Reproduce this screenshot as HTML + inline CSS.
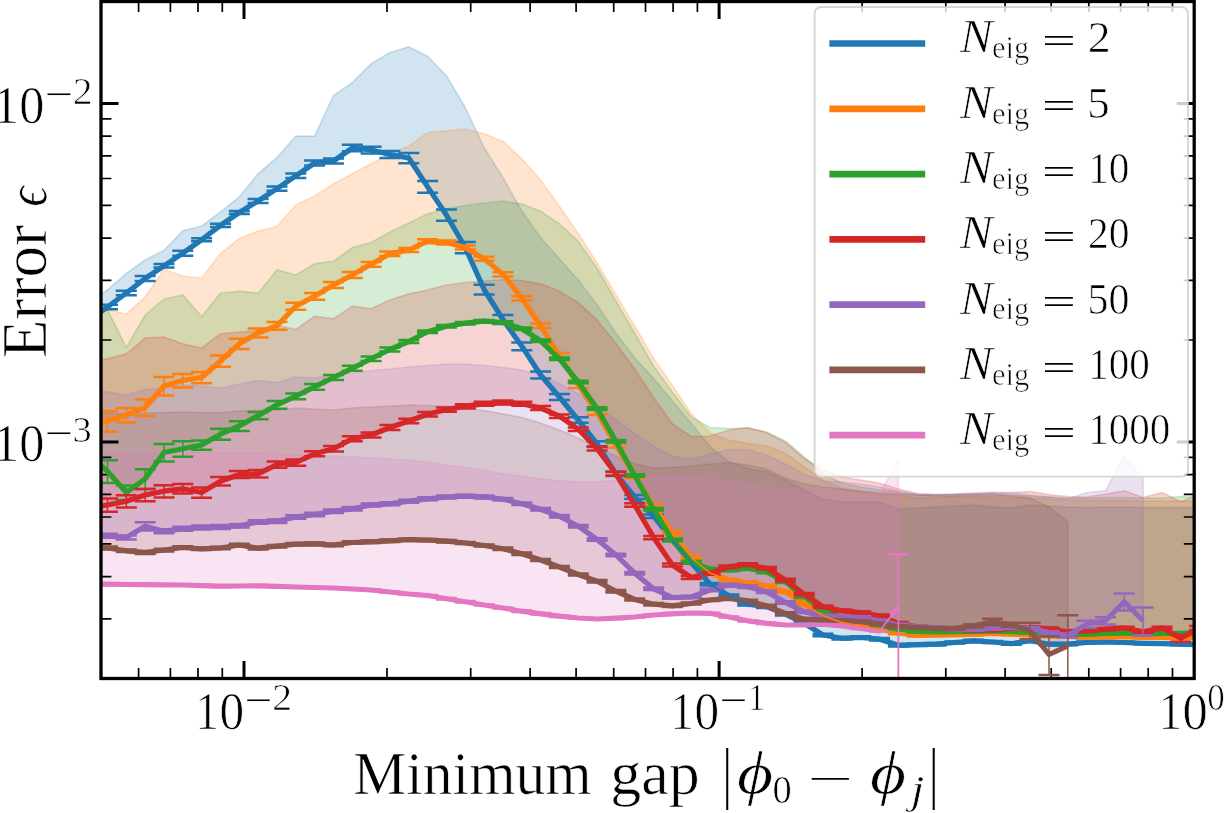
<!DOCTYPE html>
<html lang="en"><head><meta charset="utf-8"><title>Error vs minimum gap</title>
<style>html,body{margin:0;padding:0;background:#fff}body{width:1224px;height:813px;overflow:hidden}svg{display:block}.t text{vector-effect:non-scaling-stroke}</style>
</head><body>
<svg width="1224" height="813" viewBox="0 0 1224 813">
<rect width="1224" height="813" fill="#fff"/>
<defs><clipPath id="ax"><rect x="101.0" y="1.5" width="1093.2" height="677.0"/></clipPath></defs>
<g clip-path="url(#ax)">
<path d="M88.7 302 L107.5 290 L126.3 273.5 L145.2 259.8 L164 250.4 L182.8 230.8 L201.6 226 L220.5 212 L239.3 197 L258.1 173.8 L277 157.5 L295.8 136 L314.6 136 L333.5 95.5 L352.3 82.5 L371.1 63.8 L389.9 52.5 L408.8 46.8 L427.6 56.2 L446.4 75.8 L465.3 107.5 L484.1 147.5 L502.9 177.5 L521.8 211 L540.6 237.5 L559.4 258.8 L578.2 280 L597.1 305 L615.9 333.2 L634.7 357.8 L653.6 378.6 L672.4 401 L691.2 423.3 L710.1 446.8 L728.9 462 L747.7 468.3 L766.5 471.7 L785.4 480 L804.2 490 L823 499.2 L841.9 502.2 L860.7 502.2 L879.5 502.2 L898.4 509 L917.2 508 L936 507 L954.8 506 L973.7 505 L992.5 507 L1011.3 508 L1030.2 505 L1049 506 L1067.8 507 L1086.7 507.5 L1105.5 507 L1124.3 507 L1143.1 507.5 L1162 507.5 L1180.8 507.5 L1199.6 507.5 L1199.6 644.7 L1180.8 644.2 L1162 643.7 L1143.1 643.3 L1124.3 642.5 L1105.5 642 L1086.7 642.5 L1067.8 644.2 L1049 644.2 L1030.2 640.8 L1011.3 643.7 L992.5 642 L973.7 640.8 L954.8 642.5 L936 644.2 L917.2 644.7 L898.4 645.3 L879.5 639.2 L860.7 637.5 L841.9 638.3 L823 635 L804.2 623.3 L785.4 614.2 L766.5 606.7 L747.7 604.2 L728.9 595.8 L710.1 584.2 L691.2 562.5 L672.4 540 L653.6 516.2 L634.7 497 L615.9 473.8 L597.1 443.8 L578.2 420 L559.4 397 L540.6 375 L521.8 346.2 L502.9 319.5 L484.1 289.5 L465.3 247.5 L446.4 215 L427.6 186.8 L408.8 158 L389.9 154.5 L371.1 150 L352.3 148 L333.5 161 L314.6 163 L295.8 175.8 L277 188.6 L258.1 201 L239.3 212.5 L220.5 225.4 L201.6 239.8 L182.8 253.2 L164 265.8 L145.2 278.5 L126.3 293 L107.5 307 L88.7 320Z" fill="#1f77b4" fill-opacity="0.2" stroke="#1f77b4" stroke-opacity="0.2" stroke-width="1.75" stroke-linejoin="round"/>
<path d="M88.7 305 L107.5 309.5 L126.3 314 L145.2 297 L164 269.3 L182.8 276 L201.6 278 L220.5 253.5 L239.3 238.5 L258.1 231 L277 226.4 L295.8 205 L314.6 196 L333.5 183.8 L352.3 173.8 L371.1 163.8 L389.9 153.8 L408.8 146.2 L427.6 132.5 L446.4 130.8 L465.3 129.2 L484.1 133.8 L502.9 141.2 L521.8 158.8 L540.6 180 L559.4 206.2 L578.2 233.5 L597.1 263 L615.9 294.4 L634.7 326.3 L653.6 358.3 L672.4 385.6 L691.2 413.5 L710.1 433.3 L728.9 440 L747.7 443.3 L766.5 445.8 L785.4 453.3 L804.2 466.7 L823 480 L841.9 488.3 L860.7 491.7 L879.5 494.2 L898.4 495 L917.2 498 L936 497 L954.8 496.5 L973.7 496.5 L992.5 497 L1011.3 497.5 L1030.2 498 L1049 499 L1067.8 500 L1086.7 500.5 L1105.5 500.5 L1124.3 500.5 L1143.1 501 L1162 501 L1180.8 501 L1199.6 501 L1199.6 637.5 L1180.8 638 L1162 637.5 L1143.1 637.5 L1124.3 636.7 L1105.5 637 L1086.7 637.5 L1067.8 636.5 L1049 635.8 L1030.2 635 L1011.3 634.2 L992.5 633.3 L973.7 634.2 L954.8 634.7 L936 635 L917.2 635.3 L898.4 633 L879.5 629.2 L860.7 625.8 L841.9 622.5 L823 615.8 L804.2 604.2 L785.4 591.7 L766.5 585.8 L747.7 582.5 L728.9 580 L710.1 573 L691.2 557.5 L672.4 532.5 L653.6 506.2 L634.7 476.2 L615.9 445.5 L597.1 412.5 L578.2 385 L559.4 356.2 L540.6 325.8 L521.8 298.2 L502.9 274.2 L484.1 258.8 L465.3 247.5 L446.4 242.5 L427.6 241.2 L408.8 250 L389.9 253.8 L371.1 264.2 L352.3 275 L333.5 285 L314.6 296.2 L295.8 306.2 L277 325.8 L258.1 333 L239.3 343.8 L220.5 361 L201.6 377.5 L182.8 380.5 L164 386 L145.2 407.5 L126.3 415 L107.5 421 L88.7 426Z" fill="#ff7f0e" fill-opacity="0.2" stroke="#ff7f0e" stroke-opacity="0.2" stroke-width="1.75" stroke-linejoin="round"/>
<path d="M88.7 318 L107.5 309.5 L126.3 347.5 L145.2 315 L164 299.2 L182.8 294.8 L201.6 316.5 L220.5 293 L239.3 291.2 L258.1 293 L277 269.8 L295.8 275 L314.6 263.8 L333.5 261.2 L352.3 247.5 L371.1 242.5 L389.9 232 L408.8 223 L427.6 213.8 L446.4 208.8 L465.3 205.5 L484.1 203 L502.9 201.2 L521.8 203.8 L540.6 211.2 L559.4 223.8 L578.2 241.2 L597.1 268 L615.9 300.8 L634.7 333.3 L653.6 366 L672.4 392 L691.2 417 L710.1 427.5 L728.9 428.5 L747.7 428 L766.5 432 L785.4 441 L804.2 457 L823 474 L841.9 483 L860.7 487 L879.5 490 L898.4 492 L917.2 495 L936 495 L954.8 494.5 L973.7 494 L992.5 494.5 L1011.3 495 L1030.2 496 L1049 497 L1067.8 498 L1086.7 498 L1105.5 497.5 L1124.3 497.5 L1143.1 498 L1162 498 L1180.8 496.5 L1199.6 497 L1199.6 632.5 L1180.8 633.3 L1162 633.3 L1143.1 634.2 L1124.3 632.8 L1105.5 633.3 L1086.7 634.2 L1067.8 634.5 L1049 633.3 L1030.2 632.5 L1011.3 631.7 L992.5 631 L973.7 631.3 L954.8 631.7 L936 631.7 L917.2 631.3 L898.4 629 L879.5 625 L860.7 621 L841.9 618 L823 610 L804.2 596.7 L785.4 581.7 L766.5 572 L747.7 568.3 L728.9 570 L710.1 569.2 L691.2 562 L672.4 540 L653.6 509.2 L634.7 475.5 L615.9 441.2 L597.1 408.5 L578.2 382 L559.4 358.8 L540.6 340.8 L521.8 328.8 L502.9 322.5 L484.1 321.2 L465.3 323.2 L446.4 326.2 L427.6 331.8 L408.8 341.5 L389.9 349.5 L371.1 358.8 L352.3 368.3 L333.5 377.5 L314.6 386.9 L295.8 396.2 L277 404.8 L258.1 415.6 L239.3 426 L220.5 434.2 L201.6 445 L182.8 448.8 L164 452.5 L145.2 478.8 L126.3 492.5 L107.5 471.2 L88.7 455Z" fill="#2ca02c" fill-opacity="0.2" stroke="#2ca02c" stroke-opacity="0.2" stroke-width="1.75" stroke-linejoin="round"/>
<path d="M88.7 362 L107.5 358.8 L126.3 353.8 L145.2 338 L164 337 L182.8 343.8 L201.6 348 L220.5 333.8 L239.3 332 L258.1 330.5 L277 325 L295.8 329.5 L314.6 316.2 L333.5 318.8 L352.3 306.2 L371.1 308.8 L389.9 300 L408.8 293.8 L427.6 290 L446.4 285 L465.3 282.5 L484.1 281.2 L502.9 279.5 L521.8 280.5 L540.6 283.8 L559.4 291.2 L578.2 302.5 L597.1 320 L615.9 343.4 L634.7 369 L653.6 397.5 L672.4 423.8 L691.2 436.5 L710.1 436 L728.9 430 L747.7 427.5 L766.5 432.5 L785.4 442.5 L804.2 458.5 L823 469.5 L841.9 477 L860.7 480 L879.5 483 L898.4 489 L917.2 493.5 L936 494.5 L954.8 494 L973.7 493 L992.5 492.5 L1011.3 492.5 L1030.2 491.5 L1049 494.5 L1067.8 496.7 L1086.7 497 L1105.5 494 L1124.3 490.8 L1143.1 497.5 L1162 492.5 L1180.8 501.7 L1199.6 494 L1199.6 628 L1180.8 638.3 L1162 628 L1143.1 631.7 L1124.3 628 L1105.5 629.2 L1086.7 630.8 L1067.8 631.7 L1049 628.7 L1030.2 627.5 L1011.3 628.3 L992.5 630 L973.7 630 L954.8 629.2 L936 628.3 L917.2 626.7 L898.4 623.3 L879.5 615.8 L860.7 612.5 L841.9 610.8 L823 606.7 L804.2 594.2 L785.4 580 L766.5 568.3 L747.7 564.5 L728.9 566.7 L710.1 573.3 L691.2 577.5 L672.4 565 L653.6 537.5 L634.7 505 L615.9 473.8 L597.1 448.8 L578.2 429.2 L559.4 416.2 L540.6 408 L521.8 403.8 L502.9 402.5 L484.1 403.8 L465.3 406.2 L446.4 409.5 L427.6 414.2 L408.8 421 L389.9 427.5 L371.1 435 L352.3 438.8 L333.5 448.8 L314.6 453.8 L295.8 462.5 L277 464.5 L258.1 473.8 L239.3 474.5 L220.5 481.2 L201.6 492.5 L182.8 488.8 L164 491.2 L145.2 495 L126.3 501.2 L107.5 505 L88.7 508Z" fill="#d62728" fill-opacity="0.2" stroke="#d62728" stroke-opacity="0.2" stroke-width="1.75" stroke-linejoin="round"/>
<path d="M88.7 390 L107.5 391.8 L126.3 395 L145.2 389.5 L164 388 L182.8 384.5 L201.6 386.2 L220.5 388 L239.3 384.2 L258.1 380.5 L277 382.5 L295.8 377 L314.6 378 L333.5 375 L352.3 373.2 L371.1 370.5 L389.9 369 L408.8 367 L427.6 365.5 L446.4 364.2 L465.3 364.2 L484.1 365.5 L502.9 367.5 L521.8 370 L540.6 375 L559.4 383.8 L578.2 393.8 L597.1 406.2 L615.9 420 L634.7 433.8 L653.6 446.2 L672.4 456.2 L691.2 459.3 L710.1 454 L728.9 449.7 L747.7 449.7 L766.5 455 L785.4 464 L804.2 474 L823 481 L841.9 482 L860.7 484 L879.5 487 L898.4 491 L917.2 494 L936 494.5 L954.8 494 L973.7 493.5 L992.5 492.5 L1011.3 493 L1030.2 495 L1049 497 L1067.8 499 L1086.7 492.5 L1105.5 490.8 L1124.3 455.8 L1143.1 478.3 L1143.1 620.8 L1124.3 601.7 L1105.5 620.8 L1086.7 624.2 L1067.8 635.5 L1049 632.5 L1030.2 628.3 L1011.3 627.5 L992.5 628.5 L973.7 629.5 L954.8 629 L936 627.5 L917.2 626.7 L898.4 625 L879.5 620.8 L860.7 617.5 L841.9 617 L823 616.3 L804.2 611.7 L785.4 602.5 L766.5 591.7 L747.7 586.7 L728.9 585 L710.1 590 L691.2 597 L672.4 597.5 L653.6 588.8 L634.7 573.2 L615.9 555 L597.1 539.5 L578.2 526.2 L559.4 516.2 L540.6 509.2 L521.8 503.8 L502.9 499.2 L484.1 497 L465.3 496.2 L446.4 497 L427.6 498.8 L408.8 501.2 L389.9 503.8 L371.1 505 L352.3 508.8 L333.5 511.2 L314.6 514.5 L295.8 517 L277 521.2 L258.1 522 L239.3 525.8 L220.5 527 L201.6 527.5 L182.8 528.8 L164 531.2 L145.2 526.2 L126.3 537.5 L107.5 535.8 L88.7 535Z" fill="#9467bd" fill-opacity="0.2" stroke="#9467bd" stroke-opacity="0.2" stroke-width="1.75" stroke-linejoin="round"/>
<path d="M88.7 413 L107.5 413 L126.3 413.8 L145.2 413 L164 412.5 L182.8 412 L201.6 412.5 L220.5 412.5 L239.3 411 L258.1 410.5 L277 410 L295.8 408.2 L314.6 409.2 L333.5 410 L352.3 408 L371.1 407 L389.9 406.2 L408.8 405 L427.6 405.5 L446.4 406.2 L465.3 408 L484.1 410.5 L502.9 413.8 L521.8 417.5 L540.6 423 L559.4 430 L578.2 438 L597.1 447.5 L615.9 456.2 L634.7 463.8 L653.6 468 L672.4 467.5 L691.2 466 L710.1 464 L728.9 462.5 L747.7 465 L766.5 469 L785.4 478 L804.2 484 L823 487 L841.9 489 L860.7 491 L879.5 493 L898.4 494 L917.2 495 L936 495.5 L954.8 495.5 L973.7 495 L992.5 494 L1011.3 496 L1030.2 498 L1049 506.7 L1067.8 522 L1067.8 645.8 L1049 654.5 L1030.2 630.8 L1011.3 624.8 L992.5 621.8 L973.7 625.7 L954.8 628.3 L936 628.3 L917.2 627.5 L898.4 626.7 L879.5 624.2 L860.7 621.7 L841.9 620.5 L823 620 L804.2 619.2 L785.4 613.3 L766.5 605.8 L747.7 600.8 L728.9 598.3 L710.1 600 L691.2 603.5 L672.4 605.8 L653.6 604.2 L634.7 599.5 L615.9 591.2 L597.1 581.2 L578.2 574.5 L559.4 567 L540.6 560 L521.8 553.8 L502.9 548.8 L484.1 545.5 L465.3 543 L446.4 541.2 L427.6 540 L408.8 539.6 L389.9 540.8 L371.1 541.8 L352.3 542.5 L333.5 545 L314.6 543.8 L295.8 544.2 L277 546.2 L258.1 548.2 L239.3 545 L220.5 548 L201.6 548.8 L182.8 547.5 L164 550 L145.2 552.5 L126.3 550.8 L107.5 548 L88.7 547Z" fill="#8c564b" fill-opacity="0.2" stroke="#8c564b" stroke-opacity="0.2" stroke-width="1.75" stroke-linejoin="round"/>
<path d="M88.7 452 L107.5 452 L126.3 452 L145.2 452 L164 452 L182.8 452 L201.6 452.2 L220.5 452.5 L239.3 452.8 L258.1 453 L277 454 L295.8 455 L314.6 455.6 L333.5 456.2 L352.3 457 L371.1 458 L389.9 459 L408.8 460 L427.6 462.5 L446.4 465 L465.3 467.5 L484.1 470.5 L502.9 473.8 L521.8 476.2 L540.6 478.8 L559.4 480.8 L578.2 482 L597.1 482 L615.9 480 L634.7 477.5 L653.6 476.2 L672.4 476 L691.2 476.7 L710.1 477.5 L728.9 480.8 L747.7 484.2 L766.5 486.7 L785.4 488.3 L804.2 488.3 L823 488.3 L841.9 490 L860.7 492.5 L879.5 495 L898.4 458.8 L898.4 606.7 L879.5 631 L860.7 628.3 L841.9 625.8 L823 624.2 L804.2 625 L785.4 625 L766.5 623.3 L747.7 620.8 L728.9 617 L710.1 613.3 L691.2 613 L672.4 613.8 L653.6 615 L634.7 617 L615.9 618.2 L597.1 619 L578.2 618 L559.4 616.2 L540.6 613.8 L521.8 611.2 L502.9 608 L484.1 605 L465.3 601.8 L446.4 598.8 L427.6 595.5 L408.8 594 L389.9 592 L371.1 590 L352.3 589 L333.5 588 L314.6 587.5 L295.8 587 L277 586.4 L258.1 585.8 L239.3 586 L220.5 586.2 L201.6 585.6 L182.8 585 L164 584.9 L145.2 584.7 L126.3 584.5 L107.5 584.2 L88.7 584Z" fill="#e377c2" fill-opacity="0.2" stroke="#e377c2" stroke-opacity="0.2" stroke-width="1.75" stroke-linejoin="round"/>
</g>
<g><path d="M244 678.5v-17.5M244 1.5v17.5" stroke="#000" stroke-width="3.0"/><path d="M719.1 678.5v-17.5M719.1 1.5v17.5" stroke="#000" stroke-width="3.0"/><path d="M138.6 678.5v-10.4M138.6 1.5v10.4" stroke="#000" stroke-width="1.7"/><path d="M170.4 678.5v-10.4M170.4 1.5v10.4" stroke="#000" stroke-width="1.7"/><path d="M198 678.5v-10.4M198 1.5v10.4" stroke="#000" stroke-width="1.7"/><path d="M222.3 678.5v-10.4M222.3 1.5v10.4" stroke="#000" stroke-width="1.7"/><path d="M387 678.5v-10.4M387 1.5v10.4" stroke="#000" stroke-width="1.7"/><path d="M470.7 678.5v-10.4M470.7 1.5v10.4" stroke="#000" stroke-width="1.7"/><path d="M530.1 678.5v-10.4M530.1 1.5v10.4" stroke="#000" stroke-width="1.7"/><path d="M576.1 678.5v-10.4M576.1 1.5v10.4" stroke="#000" stroke-width="1.7"/><path d="M613.7 678.5v-10.4M613.7 1.5v10.4" stroke="#000" stroke-width="1.7"/><path d="M645.5 678.5v-10.4M645.5 1.5v10.4" stroke="#000" stroke-width="1.7"/><path d="M673.1 678.5v-10.4M673.1 1.5v10.4" stroke="#000" stroke-width="1.7"/><path d="M697.4 678.5v-10.4M697.4 1.5v10.4" stroke="#000" stroke-width="1.7"/><path d="M862.1 678.5v-10.4M862.1 1.5v10.4" stroke="#000" stroke-width="1.7"/><path d="M945.8 678.5v-10.4M945.8 1.5v10.4" stroke="#000" stroke-width="1.7"/><path d="M1005.1 678.5v-10.4M1005.1 1.5v10.4" stroke="#000" stroke-width="1.7"/><path d="M1051.2 678.5v-10.4M1051.2 1.5v10.4" stroke="#000" stroke-width="1.7"/><path d="M1088.8 678.5v-10.4M1088.8 1.5v10.4" stroke="#000" stroke-width="1.7"/><path d="M1120.6 678.5v-10.4M1120.6 1.5v10.4" stroke="#000" stroke-width="1.7"/><path d="M1148.2 678.5v-10.4M1148.2 1.5v10.4" stroke="#000" stroke-width="1.7"/><path d="M1172.5 678.5v-10.4M1172.5 1.5v10.4" stroke="#000" stroke-width="1.7"/><path d="M101.0 441.9h17.5M1194.2 441.9h-17.5" stroke="#000" stroke-width="3.0"/><path d="M101.0 103.4h17.5M1194.2 103.4h-17.5" stroke="#000" stroke-width="3.0"/><path d="M101.0 618.9h10.4M1194.2 618.9h-10.4" stroke="#000" stroke-width="1.7"/><path d="M101.0 576.6h10.4M1194.2 576.6h-10.4" stroke="#000" stroke-width="1.7"/><path d="M101.0 543.8h10.4M1194.2 543.8h-10.4" stroke="#000" stroke-width="1.7"/><path d="M101.0 517h10.4M1194.2 517h-10.4" stroke="#000" stroke-width="1.7"/><path d="M101.0 494.3h10.4M1194.2 494.3h-10.4" stroke="#000" stroke-width="1.7"/><path d="M101.0 474.7h10.4M1194.2 474.7h-10.4" stroke="#000" stroke-width="1.7"/><path d="M101.0 457.4h10.4M1194.2 457.4h-10.4" stroke="#000" stroke-width="1.7"/><path d="M101.0 340h10.4M1194.2 340h-10.4" stroke="#000" stroke-width="1.7"/><path d="M101.0 280.4h10.4M1194.2 280.4h-10.4" stroke="#000" stroke-width="1.7"/><path d="M101.0 238.1h10.4M1194.2 238.1h-10.4" stroke="#000" stroke-width="1.7"/><path d="M101.0 205.3h10.4M1194.2 205.3h-10.4" stroke="#000" stroke-width="1.7"/><path d="M101.0 178.5h10.4M1194.2 178.5h-10.4" stroke="#000" stroke-width="1.7"/><path d="M101.0 155.8h10.4M1194.2 155.8h-10.4" stroke="#000" stroke-width="1.7"/><path d="M101.0 136.2h10.4M1194.2 136.2h-10.4" stroke="#000" stroke-width="1.7"/><path d="M101.0 118.9h10.4M1194.2 118.9h-10.4" stroke="#000" stroke-width="1.7"/></g>
<g clip-path="url(#ax)" fill="none">
<path d="M88.7 320 L107.5 307 L126.3 293 L145.2 278.5 L164 265.8 L182.8 253.2 L201.6 239.8 L220.5 225.4 L239.3 212.5 L258.1 201 L277 188.6 L295.8 175.8 L314.6 163 L333.5 161 L352.3 148 L371.1 150 L389.9 154.5 L408.8 158 L427.6 186.8 L446.4 215 L465.3 247.5 L484.1 289.5 L502.9 319.5 L521.8 346.2 L540.6 375 L559.4 397 L578.2 420 L597.1 443.8 L615.9 473.8 L634.7 497 L653.6 516.2 L672.4 540 L691.2 562.5 L710.1 584.2 L728.9 595.8 L747.7 604.2 L766.5 606.7 L785.4 614.2 L804.2 623.3 L823 635 L841.9 638.3 L860.7 637.5 L879.5 639.2 L898.4 645.3 L917.2 644.7 L936 644.2 L954.8 642.5 L973.7 640.8 L992.5 642 L1011.3 643.7 L1030.2 640.8 L1049 644.2 L1067.8 644.2 L1086.7 642.5 L1105.5 642 L1124.3 642.5 L1143.1 643.3 L1162 643.7 L1180.8 644.2 L1199.6 644.7" stroke="#1f77b4" stroke-width="5.2" stroke-linejoin="round" stroke-linecap="butt"/>
<path d="M78.2 317.7h21M78.2 322.3h21M97 304.7h21M97 309.3h21M115.8 290.7h21M115.8 295.3h21M134.7 276h21M134.7 281h21M153.5 264.1h21M153.5 267.5h21M172.3 250.7h21M172.3 255.7h21M191.1 238.3h21M191.1 241.3h21M210 223.7h21M210 227.1h21M228.8 211h21M228.8 214h21M247.6 198.9h21M247.6 203.1h21M266.5 186.4h21M266.5 190.8h21M285.3 173.6h21M285.3 178h21M304.1 160.5h21M304.1 165.5h21M323 158.5h21M323 163.5h21M341.8 144.8h21M341.8 151.3h21M360.6 146.7h21M360.6 153.4h21M379.4 151h21M379.4 158.1h21M398.3 153h21M398.3 163.2h21M417.1 181.1h21M417.1 192.7h21M435.9 209.4h21M435.9 220.8h21M454.8 242h21M454.8 253.2h21M473.6 284.8h21M473.6 294.4h21M492.4 315h21M492.4 324.1h21M511.3 342.4h21M511.3 350.3h21M530.1 371.6h21M530.1 378.5h21M548.9 394.1h21M548.9 400h21M567.8 417.3h21M567.8 422.8h21M586.6 441.2h21M586.6 446.3h21M605.4 471.6h21M605.4 476h21M624.2 495h21M624.2 499h21M643.1 514.6h21M643.1 517.9h21M661.9 538.7h21M661.9 541.3h21M680.7 561.2h21M680.7 563.8h21M699.6 582.9h21M699.6 585.5h21M718.4 594.5h21M718.4 597.1h21M737.2 602.9h21M737.2 605.5h21M756 605.5h21M756 608h21M774.9 613h21M774.9 615.4h21M793.7 622.1h21M793.7 624.5h21M812.5 633.8h21M812.5 636.2h21M831.4 637.1h21M831.4 639.5h21M850.2 636.3h21M850.2 638.7h21M869 638h21M869 640.4h21M887.9 644.1h21M887.9 646.5h21M906.7 643.5h21M906.7 645.9h21M925.5 643.1h21M925.5 645.4h21M944.3 641.4h21M944.3 643.6h21M963.2 639.7h21M963.2 641.9h21M982 640.9h21M982 643.1h21M1000.8 642.6h21M1000.8 644.8h21M1019.7 639.7h21M1019.7 641.9h21M1038.5 643.1h21M1038.5 645.3h21M1057.3 643.1h21M1057.3 645.3h21M1076.2 641.4h21M1076.2 643.6h21M1095 640.9h21M1095 643.1h21M1113.8 641.5h21M1113.8 643.6h21M1132.6 642.3h21M1132.6 644.3h21M1151.5 642.7h21M1151.5 644.7h21M1170.3 643.2h21M1170.3 645.2h21M1189.1 643.7h21M1189.1 645.7h21" stroke="#1f77b4" stroke-width="2.5"/>
<path d="M88.7 317.7V322.3M107.5 304.7V309.3M126.3 290.7V295.3M145.2 276V281M164 264.1V267.5M182.8 250.7V255.7M201.6 238.3V241.3M220.5 223.7V227.1M239.3 211V214M258.1 198.9V203.1M277 186.4V190.8M295.8 173.6V178M314.6 160.5V165.5M333.5 158.5V163.5M352.3 144.8V151.3M371.1 146.7V153.4M389.9 151V158.1M408.8 153V163.2M427.6 181.1V192.7M446.4 209.4V220.8M465.3 242V253.2M484.1 284.8V294.4M502.9 315V324.1M521.8 342.4V350.3M540.6 371.6V378.5M559.4 394.1V400M578.2 417.3V422.8M597.1 441.2V446.3M615.9 471.6V476M634.7 495V499M653.6 514.6V517.9M672.4 538.7V541.3M691.2 561.2V563.8M710.1 582.9V585.5M728.9 594.5V597.1M747.7 602.9V605.5M766.5 605.5V608M785.4 613V615.4M804.2 622.1V624.5M823 633.8V636.2M841.9 637.1V639.5M860.7 636.3V638.7M879.5 638V640.4M898.4 644.1V646.5M917.2 643.5V645.9M936 643.1V645.4M954.8 641.4V643.6M973.7 639.7V641.9M992.5 640.9V643.1M1011.3 642.6V644.8M1030.2 639.7V641.9M1049 643.1V645.3M1067.8 643.1V645.3M1086.7 641.4V643.6M1105.5 640.9V643.1M1124.3 641.5V643.6M1143.1 642.3V644.3M1162 642.7V644.7M1180.8 643.2V645.2M1199.6 643.7V645.7" stroke="#1f77b4" stroke-width="1.5"/>
<path d="M88.7 426 L107.5 421 L126.3 415 L145.2 407.5 L164 386 L182.8 380.5 L201.6 377.5 L220.5 361 L239.3 343.8 L258.1 333 L277 325.8 L295.8 306.2 L314.6 296.2 L333.5 285 L352.3 275 L371.1 264.2 L389.9 253.8 L408.8 250 L427.6 241.2 L446.4 242.5 L465.3 247.5 L484.1 258.8 L502.9 274.2 L521.8 298.2 L540.6 325.8 L559.4 356.2 L578.2 385 L597.1 412.5 L615.9 445.5 L634.7 476.2 L653.6 506.2 L672.4 532.5 L691.2 557.5 L710.1 573 L728.9 580 L747.7 582.5 L766.5 585.8 L785.4 591.7 L804.2 604.2 L823 615.8 L841.9 622.5 L860.7 625.8 L879.5 629.2 L898.4 633 L917.2 635.3 L936 635 L954.8 634.7 L973.7 634.2 L992.5 633.3 L1011.3 634.2 L1030.2 635 L1049 635.8 L1067.8 636.5 L1086.7 637.5 L1105.5 637 L1124.3 636.7 L1143.1 637.5 L1162 637.5 L1180.8 638 L1199.6 637.5" stroke="#ff7f0e" stroke-width="5.2" stroke-linejoin="round" stroke-linecap="butt"/>
<path d="M78.2 416h21M78.2 436.7h21M97 411h21M97 431.7h21M115.8 408h21M115.8 422.4h21M134.7 399.5h21M134.7 416h21M153.5 377h21M153.5 395.6h21M172.3 373.9h21M172.3 387.4h21M191.1 371.9h21M191.1 383.3h21M210 355.4h21M210 366.8h21M228.8 338.8h21M228.8 348.9h21M247.6 328.6h21M247.6 337.5h21M266.5 321.9h21M266.5 329.8h21M285.3 302.8h21M285.3 309.8h21M304.1 292.9h21M304.1 299.7h21M323 282h21M323 288.1h21M341.8 272h21M341.8 278.1h21M360.6 261.9h21M360.6 266.7h21M379.4 251.5h21M379.4 256h21M398.3 248h21M398.3 252h21M417.1 239.2h21M417.1 243.3h21M435.9 240.5h21M435.9 244.6h21M454.8 245.5h21M454.8 249.6h21M473.6 256.7h21M473.6 260.8h21M492.4 272.2h21M492.4 276.4h21M511.3 296.2h21M511.3 300.4h21M530.1 323.6h21M530.1 327.9h21M548.9 353.1h21M548.9 359.5h21M567.8 382.1h21M567.8 387.9h21M586.6 410h21M586.6 415h21M605.4 443.2h21M605.4 447.8h21M624.2 474.2h21M624.2 478.3h21M643.1 504.5h21M643.1 508h21M661.9 531h21M661.9 534h21M680.7 556.2h21M680.7 558.8h21M699.6 571.7h21M699.6 574.3h21M718.4 578.7h21M718.4 581.3h21M737.2 581.2h21M737.2 583.8h21M756 584.5h21M756 587.1h21M774.9 590.5h21M774.9 593h21M793.7 603h21M793.7 605.4h21M812.5 614.6h21M812.5 617h21M831.4 621.3h21M831.4 623.7h21M850.2 624.6h21M850.2 627h21M869 628h21M869 630.4h21M887.9 631.8h21M887.9 634.2h21M906.7 634.1h21M906.7 636.5h21M925.5 633.8h21M925.5 636.2h21M944.3 633.6h21M944.3 635.9h21M963.2 633.1h21M963.2 635.3h21M982 632.2h21M982 634.4h21M1000.8 633.1h21M1000.8 635.3h21M1019.7 633.9h21M1019.7 636.1h21M1038.5 634.7h21M1038.5 636.9h21M1057.3 635.4h21M1057.3 637.6h21M1076.2 636.4h21M1076.2 638.6h21M1095 635.9h21M1095 638.1h21M1113.8 635.7h21M1113.8 637.8h21M1132.6 636.5h21M1132.6 638.5h21M1151.5 636.5h21M1151.5 638.5h21M1170.3 637h21M1170.3 639h21M1189.1 636.5h21M1189.1 638.5h21" stroke="#ff7f0e" stroke-width="2.5"/>
<path d="M88.7 416V436.7M107.5 411V431.7M126.3 408V422.4M145.2 399.5V416M164 377V395.6M182.8 373.9V387.4M201.6 371.9V383.3M220.5 355.4V366.8M239.3 338.8V348.9M258.1 328.6V337.5M277 321.9V329.8M295.8 302.8V309.8M314.6 292.9V299.7M333.5 282V288.1M352.3 272V278.1M371.1 261.9V266.7M389.9 251.5V256M408.8 248V252M427.6 239.2V243.3M446.4 240.5V244.6M465.3 245.5V249.6M484.1 256.7V260.8M502.9 272.2V276.4M521.8 296.2V300.4M540.6 323.6V327.9M559.4 353.1V359.5M578.2 382.1V387.9M597.1 410V415M615.9 443.2V447.8M634.7 474.2V478.3M653.6 504.5V508M672.4 531V534M691.2 556.2V558.8M710.1 571.7V574.3M728.9 578.7V581.3M747.7 581.2V583.8M766.5 584.5V587.1M785.4 590.5V593M804.2 603V605.4M823 614.6V617M841.9 621.3V623.7M860.7 624.6V627M879.5 628V630.4M898.4 631.8V634.2M917.2 634.1V636.5M936 633.8V636.2M954.8 633.6V635.9M973.7 633.1V635.3M992.5 632.2V634.4M1011.3 633.1V635.3M1030.2 633.9V636.1M1049 634.7V636.9M1067.8 635.4V637.6M1086.7 636.4V638.6M1105.5 635.9V638.1M1124.3 635.7V637.8M1143.1 636.5V638.5M1162 636.5V638.5M1180.8 637V639M1199.6 636.5V638.5" stroke="#ff7f0e" stroke-width="1.5"/>
<path d="M88.7 584 L107.5 584.2 L126.3 584.5 L145.2 584.7 L164 584.9 L182.8 585 L201.6 585.6 L220.5 586.2 L239.3 586 L258.1 585.8 L277 586.4 L295.8 587 L314.6 587.5 L333.5 588 L352.3 589 L371.1 590 L389.9 592 L408.8 594 L427.6 595.5 L446.4 598.8 L465.3 601.8 L484.1 605 L502.9 608 L521.8 611.2 L540.6 613.8 L559.4 616.2 L578.2 618 L597.1 619 L615.9 618.2 L634.7 617 L653.6 615 L672.4 613.8 L691.2 613 L710.1 613.3 L728.9 617 L747.7 620.8 L766.5 623.3 L785.4 625 L804.2 625 L823 624.2 L841.9 625.8 L860.7 628.3 L879.5 631 L898.4 606.7" stroke="#e377c2" stroke-width="5.2" stroke-linejoin="round" stroke-linecap="butt"/>
<path d="M78.2 583.4h21M78.2 584.6h21M97 583.6h21M97 584.9h21M115.8 583.9h21M115.8 585.1h21M134.7 584.1h21M134.7 585.3h21M153.5 584.3h21M153.5 585.5h21M172.3 584.4h21M172.3 585.6h21M191.1 585h21M191.1 586.2h21M210 585.6h21M210 586.9h21M228.8 585.4h21M228.8 586.6h21M247.6 585.1h21M247.6 586.4h21M266.5 585.8h21M266.5 587h21M285.3 586.4h21M285.3 587.6h21M304.1 586.9h21M304.1 588.1h21M323 587.4h21M323 588.6h21M341.8 588.4h21M341.8 589.6h21M360.6 589.4h21M360.6 590.6h21M379.4 591.4h21M379.4 592.6h21M398.3 593.4h21M398.3 594.6h21M417.1 594.9h21M417.1 596.1h21M435.9 598.1h21M435.9 599.4h21M454.8 601.1h21M454.8 602.4h21M473.6 604.4h21M473.6 605.6h21M492.4 607.4h21M492.4 608.6h21M511.3 610.6h21M511.3 611.9h21M530.1 613.1h21M530.1 614.4h21M548.9 615.6h21M548.9 616.9h21M567.8 617.4h21M567.8 618.6h21M586.6 618.4h21M586.6 619.6h21M605.4 617.6h21M605.4 618.9h21M624.2 616.4h21M624.2 617.6h21M643.1 614.4h21M643.1 615.6h21M661.9 613.1h21M661.9 614.4h21M680.7 612.4h21M680.7 613.6h21M699.6 612.7h21M699.6 613.9h21M718.4 616.4h21M718.4 617.6h21M737.2 620.2h21M737.2 621.4h21M756 622.7h21M756 623.9h21M774.9 624.4h21M774.9 625.6h21M793.7 624.4h21M793.7 625.6h21M812.5 623.6h21M812.5 624.8h21M831.4 625.2h21M831.4 626.4h21M850.2 627.7h21M850.2 628.9h21M869 630.4h21M869 631.6h21M887.9 554.2h21M887.9 689.1h21" stroke="#e377c2" stroke-width="2.5"/>
<path d="M88.7 583.4V584.6M107.5 583.6V584.9M126.3 583.9V585.1M145.2 584.1V585.3M164 584.3V585.5M182.8 584.4V585.6M201.6 585V586.2M220.5 585.6V586.9M239.3 585.4V586.6M258.1 585.1V586.4M277 585.8V587M295.8 586.4V587.6M314.6 586.9V588.1M333.5 587.4V588.6M352.3 588.4V589.6M371.1 589.4V590.6M389.9 591.4V592.6M408.8 593.4V594.6M427.6 594.9V596.1M446.4 598.1V599.4M465.3 601.1V602.4M484.1 604.4V605.6M502.9 607.4V608.6M521.8 610.6V611.9M540.6 613.1V614.4M559.4 615.6V616.9M578.2 617.4V618.6M597.1 618.4V619.6M615.9 617.6V618.9M634.7 616.4V617.6M653.6 614.4V615.6M672.4 613.1V614.4M691.2 612.4V613.6M710.1 612.7V613.9M728.9 616.4V617.6M747.7 620.2V621.4M766.5 622.7V623.9M785.4 624.4V625.6M804.2 624.4V625.6M823 623.6V624.8M841.9 625.2V626.4M860.7 627.7V628.9M879.5 630.4V631.6M898.4 554.2V689.1" stroke="#e377c2" stroke-width="1.5"/>
<path d="M88.7 455 L107.5 471.2 L126.3 492.5 L145.2 478.8 L164 452.5 L182.8 448.8 L201.6 445 L220.5 434.2 L239.3 426 L258.1 415.6 L277 404.8 L295.8 396.2 L314.6 386.9 L333.5 377.5 L352.3 368.3 L371.1 358.8 L389.9 349.5 L408.8 341.5 L427.6 331.8 L446.4 326.2 L465.3 323.2 L484.1 321.2 L502.9 322.5 L521.8 328.8 L540.6 340.8 L559.4 358.8 L578.2 382 L597.1 408.5 L615.9 441.2 L634.7 475.5 L653.6 509.2 L672.4 540 L691.2 562 L710.1 569.2 L728.9 570 L747.7 568.3 L766.5 572 L785.4 581.7 L804.2 596.7 L823 610 L841.9 618 L860.7 621 L879.5 625 L898.4 629 L917.2 631.3 L936 631.7 L954.8 631.7 L973.7 631.3 L992.5 631 L1011.3 631.7 L1030.2 632.5 L1049 633.3 L1067.8 634.5 L1086.7 634.2 L1105.5 633.3 L1124.3 632.8 L1143.1 634.2 L1162 633.3 L1180.8 633.3 L1199.6 632.5" stroke="#2ca02c" stroke-width="5.2" stroke-linejoin="round" stroke-linecap="butt"/>
<path d="M78.2 443h21M78.2 468.1h21M97 460.2h21M97 483.1h21M115.8 485.5h21M115.8 499.9h21M134.7 469.2h21M134.7 488.9h21M153.5 444h21M153.5 461.5h21M172.3 441.2h21M172.3 456.7h21M191.1 440.4h21M191.1 449.7h21M210 428.8h21M210 439.8h21M228.8 421.2h21M228.8 431h21M247.6 412h21M247.6 419.3h21M266.5 400.9h21M266.5 408.8h21M285.3 393.4h21M285.3 399.2h21M304.1 384.1h21M304.1 389.7h21M323 375h21M323 380h21M341.8 365.8h21M341.8 370.8h21M360.6 356.6h21M360.6 360.9h21M379.4 347.4h21M379.4 351.6h21M398.3 340h21M398.3 343h21M417.1 330.4h21M417.1 333.1h21M435.9 324.9h21M435.9 327.6h21M454.8 321.9h21M454.8 324.6h21M473.6 319.9h21M473.6 322.6h21M492.4 321.2h21M492.4 323.8h21M511.3 327.4h21M511.3 330.1h21M530.1 339.4h21M530.1 342.1h21M548.9 357.4h21M548.9 360.1h21M567.8 380.7h21M567.8 383.3h21M586.6 407.2h21M586.6 409.8h21M605.4 439.9h21M605.4 442.6h21M624.2 474.2h21M624.2 476.8h21M643.1 507.9h21M643.1 510.6h21M661.9 538.7h21M661.9 541.3h21M680.7 560.7h21M680.7 563.3h21M699.6 567.9h21M699.6 570.5h21M718.4 568.7h21M718.4 571.3h21M737.2 567h21M737.2 569.6h21M756 570.8h21M756 573.3h21M774.9 580.5h21M774.9 582.9h21M793.7 595.5h21M793.7 597.9h21M812.5 608.8h21M812.5 611.2h21M831.4 616.8h21M831.4 619.2h21M850.2 619.8h21M850.2 622.2h21M869 623.8h21M869 626.2h21M887.9 627.8h21M887.9 630.2h21M906.7 630.1h21M906.7 632.5h21M925.5 630.6h21M925.5 632.9h21M944.3 630.6h21M944.3 632.8h21M963.2 630.2h21M963.2 632.4h21M982 629.9h21M982 632.1h21M1000.8 630.6h21M1000.8 632.8h21M1019.7 631.4h21M1019.7 633.6h21M1038.5 632.2h21M1038.5 634.4h21M1057.3 633.4h21M1057.3 635.6h21M1076.2 633.1h21M1076.2 635.3h21M1095 632.2h21M1095 634.4h21M1113.8 631.8h21M1113.8 633.9h21M1132.6 633.2h21M1132.6 635.2h21M1151.5 632.3h21M1151.5 634.3h21M1170.3 632.3h21M1170.3 634.3h21M1189.1 631.5h21M1189.1 633.5h21" stroke="#2ca02c" stroke-width="2.5"/>
<path d="M88.7 443V468.1M107.5 460.2V483.1M126.3 485.5V499.9M145.2 469.2V488.9M164 444V461.5M182.8 441.2V456.7M201.6 440.4V449.7M220.5 428.8V439.8M239.3 421.2V431M258.1 412V419.3M277 400.9V408.8M295.8 393.4V399.2M314.6 384.1V389.7M333.5 375V380M352.3 365.8V370.8M371.1 356.6V360.9M389.9 347.4V351.6M408.8 340V343M427.6 330.4V333.1M446.4 324.9V327.6M465.3 321.9V324.6M484.1 319.9V322.6M502.9 321.2V323.8M521.8 327.4V330.1M540.6 339.4V342.1M559.4 357.4V360.1M578.2 380.7V383.3M597.1 407.2V409.8M615.9 439.9V442.6M634.7 474.2V476.8M653.6 507.9V510.6M672.4 538.7V541.3M691.2 560.7V563.3M710.1 567.9V570.5M728.9 568.7V571.3M747.7 567V569.6M766.5 570.8V573.3M785.4 580.5V582.9M804.2 595.5V597.9M823 608.8V611.2M841.9 616.8V619.2M860.7 619.8V622.2M879.5 623.8V626.2M898.4 627.8V630.2M917.2 630.1V632.5M936 630.6V632.9M954.8 630.6V632.8M973.7 630.2V632.4M992.5 629.9V632.1M1011.3 630.6V632.8M1030.2 631.4V633.6M1049 632.2V634.4M1067.8 633.4V635.6M1086.7 633.1V635.3M1105.5 632.2V634.4M1124.3 631.8V633.9M1143.1 633.2V635.2M1162 632.3V634.3M1180.8 632.3V634.3M1199.6 631.5V633.5" stroke="#2ca02c" stroke-width="1.5"/>
<path d="M88.7 508 L107.5 505 L126.3 501.2 L145.2 495 L164 491.2 L182.8 488.8 L201.6 492.5 L220.5 481.2 L239.3 474.5 L258.1 473.8 L277 464.5 L295.8 462.5 L314.6 453.8 L333.5 448.8 L352.3 438.8 L371.1 435 L389.9 427.5 L408.8 421 L427.6 414.2 L446.4 409.5 L465.3 406.2 L484.1 403.8 L502.9 402.5 L521.8 403.8 L540.6 408 L559.4 416.2 L578.2 429.2 L597.1 448.8 L615.9 473.8 L634.7 505 L653.6 537.5 L672.4 565 L691.2 577.5 L710.1 573.3 L728.9 566.7 L747.7 564.5 L766.5 568.3 L785.4 580 L804.2 594.2 L823 606.7 L841.9 610.8 L860.7 612.5 L879.5 615.8 L898.4 623.3 L917.2 626.7 L936 628.3 L954.8 629.2 L973.7 630 L992.5 630 L1011.3 628.3 L1030.2 627.5 L1049 628.7 L1067.8 631.7 L1086.7 630.8 L1105.5 629.2 L1124.3 628 L1143.1 631.7 L1162 628 L1180.8 638.3 L1199.6 628" stroke="#d62728" stroke-width="5.2" stroke-linejoin="round" stroke-linecap="butt"/>
<path d="M78.2 501.5h21M78.2 514.8h21M97 498.5h21M97 511.8h21M115.8 495.2h21M115.8 507.5h21M134.7 489h21M134.7 501.3h21M153.5 485.2h21M153.5 497.5h21M172.3 484.1h21M172.3 493.5h21M191.1 487.5h21M191.1 497.7h21M210 477.1h21M210 485.5h21M228.8 471.1h21M228.8 478h21M247.6 470h21M247.6 477.6h21M266.5 461.4h21M266.5 467.7h21M285.3 459.4h21M285.3 465.7h21M304.1 451.2h21M304.1 456.3h21M323 446h21M323 451.6h21M341.8 436.2h21M341.8 441.3h21M360.6 432.6h21M360.6 437.5h21M379.4 425.1h21M379.4 429.9h21M398.3 418.7h21M398.3 423.3h21M417.1 412h21M417.1 416.5h21M435.9 407.4h21M435.9 411.7h21M454.8 404.2h21M454.8 408.4h21M473.6 401.8h21M473.6 405.8h21M492.4 400.5h21M492.4 404.5h21M511.3 401.8h21M511.3 405.7h21M530.1 406.1h21M530.1 409.9h21M548.9 414.4h21M548.9 418.1h21M567.8 427.4h21M567.8 431.1h21M586.6 447h21M586.6 450.5h21M605.4 472h21M605.4 475.5h21M624.2 503.3h21M624.2 506.7h21M643.1 535.9h21M643.1 539.2h21M661.9 563.4h21M661.9 566.6h21M680.7 576h21M680.7 579h21M699.6 571.9h21M699.6 574.7h21M718.4 565.4h21M718.4 568h21M737.2 563.3h21M737.2 565.7h21M756 567.1h21M756 569.5h21M774.9 578.8h21M774.9 581.2h21M793.7 593h21M793.7 595.4h21M812.5 605.5h21M812.5 607.9h21M831.4 609.6h21M831.4 612h21M850.2 611.3h21M850.2 613.7h21M869 614.6h21M869 617h21M887.9 622.1h21M887.9 624.5h21M906.7 625.5h21M906.7 627.9h21M925.5 627.1h21M925.5 629.5h21M944.3 628h21M944.3 630.4h21M963.2 628.8h21M963.2 631.2h21M982 628.8h21M982 631.2h21M1000.8 627.1h21M1000.8 629.5h21M1019.7 626.3h21M1019.7 628.7h21M1038.5 627.5h21M1038.5 629.9h21M1057.3 630.5h21M1057.3 632.9h21M1076.2 629.6h21M1076.2 632h21M1095 628h21M1095 630.4h21M1113.8 626.8h21M1113.8 629.2h21M1132.6 630.5h21M1132.6 632.9h21M1151.5 626.8h21M1151.5 629.2h21M1170.3 635h21M1170.3 641.7h21M1189.1 626h21M1189.1 630h21" stroke="#d62728" stroke-width="2.5"/>
<path d="M88.7 501.5V514.8M107.5 498.5V511.8M126.3 495.2V507.5M145.2 489V501.3M164 485.2V497.5M182.8 484.1V493.5M201.6 487.5V497.7M220.5 477.1V485.5M239.3 471.1V478M258.1 470V477.6M277 461.4V467.7M295.8 459.4V465.7M314.6 451.2V456.3M333.5 446V451.6M352.3 436.2V441.3M371.1 432.6V437.5M389.9 425.1V429.9M408.8 418.7V423.3M427.6 412V416.5M446.4 407.4V411.7M465.3 404.2V408.4M484.1 401.8V405.8M502.9 400.5V404.5M521.8 401.8V405.7M540.6 406.1V409.9M559.4 414.4V418.1M578.2 427.4V431.1M597.1 447V450.5M615.9 472V475.5M634.7 503.3V506.7M653.6 535.9V539.2M672.4 563.4V566.6M691.2 576V579M710.1 571.9V574.7M728.9 565.4V568M747.7 563.3V565.7M766.5 567.1V569.5M785.4 578.8V581.2M804.2 593V595.4M823 605.5V607.9M841.9 609.6V612M860.7 611.3V613.7M879.5 614.6V617M898.4 622.1V624.5M917.2 625.5V627.9M936 627.1V629.5M954.8 628V630.4M973.7 628.8V631.2M992.5 628.8V631.2M1011.3 627.1V629.5M1030.2 626.3V628.7M1049 627.5V629.9M1067.8 630.5V632.9M1086.7 629.6V632M1105.5 628V630.4M1124.3 626.8V629.2M1143.1 630.5V632.9M1162 626.8V629.2M1180.8 635V641.7M1199.6 626V630" stroke="#d62728" stroke-width="1.5"/>
<path d="M88.7 535 L107.5 535.8 L126.3 537.5 L145.2 526.2 L164 531.2 L182.8 528.8 L201.6 527.5 L220.5 527 L239.3 525.8 L258.1 522 L277 521.2 L295.8 517 L314.6 514.5 L333.5 511.2 L352.3 508.8 L371.1 505 L389.9 503.8 L408.8 501.2 L427.6 498.8 L446.4 497 L465.3 496.2 L484.1 497 L502.9 499.2 L521.8 503.8 L540.6 509.2 L559.4 516.2 L578.2 526.2 L597.1 539.5 L615.9 555 L634.7 573.2 L653.6 588.8 L672.4 597.5 L691.2 597 L710.1 590 L728.9 585 L747.7 586.7 L766.5 591.7 L785.4 602.5 L804.2 611.7 L823 616.3 L841.9 617 L860.7 617.5 L879.5 620.8 L898.4 625 L917.2 626.7 L936 627.5 L954.8 629 L973.7 629.5 L992.5 628.5 L1011.3 627.5 L1030.2 628.3 L1049 632.5 L1067.8 635.5 L1086.7 624.2 L1105.5 620.8 L1124.3 601.7 L1143.1 620.8" stroke="#9467bd" stroke-width="5.2" stroke-linejoin="round" stroke-linecap="butt"/>
<path d="M78.2 533h21M78.2 537h21M97 533.8h21M97 537.8h21M115.8 535.5h21M115.8 539.5h21M134.7 522.2h21M134.7 530.4h21M153.5 529.2h21M153.5 533.3h21M172.3 526.8h21M172.3 530.7h21M191.1 525.6h21M191.1 529.5h21M210 525.1h21M210 528.9h21M228.8 523.9h21M228.8 527.6h21M247.6 520.2h21M247.6 523.8h21M266.5 519.5h21M266.5 523.1h21M285.3 515.2h21M285.3 518.8h21M304.1 512.8h21M304.1 516.2h21M323 509.6h21M323 513h21M341.8 507.1h21M341.8 510.4h21M360.6 503.4h21M360.6 506.6h21M379.4 502.2h21M379.4 505.3h21M398.3 499.7h21M398.3 502.8h21M417.1 497.2h21M417.1 500.3h21M435.9 495.5h21M435.9 498.5h21M454.8 494.8h21M454.8 497.7h21M473.6 495.6h21M473.6 498.4h21M492.4 497.9h21M492.4 500.6h21M511.3 502.4h21M511.3 505.1h21M530.1 507.9h21M530.1 510.6h21M548.9 514.9h21M548.9 517.6h21M567.8 525h21M567.8 527.6h21M586.6 538.2h21M586.6 540.8h21M605.4 553.7h21M605.4 556.3h21M624.2 572h21M624.2 574.5h21M643.1 587.5h21M643.1 590h21M661.9 596.3h21M661.9 598.7h21M680.7 595.8h21M680.7 598.2h21M699.6 588.8h21M699.6 591.2h21M718.4 583.8h21M718.4 586.2h21M737.2 585.5h21M737.2 587.9h21M756 590.5h21M756 592.9h21M774.9 601.3h21M774.9 603.7h21M793.7 610.5h21M793.7 612.9h21M812.5 615.1h21M812.5 617.5h21M831.4 615.8h21M831.4 618.2h21M850.2 616.3h21M850.2 618.7h21M869 619.6h21M869 622h21M887.9 623.8h21M887.9 626.2h21M906.7 625.5h21M906.7 627.9h21M925.5 626.3h21M925.5 628.7h21M944.3 627.8h21M944.3 630.2h21M963.2 628.3h21M963.2 630.7h21M982 627.3h21M982 629.7h21M1000.8 626.3h21M1000.8 628.7h21M1019.7 627.1h21M1019.7 629.5h21M1038.5 631.3h21M1038.5 633.7h21M1057.3 633.5h21M1057.3 637.5h21M1076.2 620.7h21M1076.2 627.8h21M1095 617.2h21M1095 624.5h21M1113.8 593.5h21M1113.8 610.4h21M1132.6 607.5h21M1132.6 635.4h21" stroke="#9467bd" stroke-width="2.5"/>
<path d="M88.7 533V537M107.5 533.8V537.8M126.3 535.5V539.5M145.2 522.2V530.4M164 529.2V533.3M182.8 526.8V530.7M201.6 525.6V529.5M220.5 525.1V528.9M239.3 523.9V527.6M258.1 520.2V523.8M277 519.5V523.1M295.8 515.2V518.8M314.6 512.8V516.2M333.5 509.6V513M352.3 507.1V510.4M371.1 503.4V506.6M389.9 502.2V505.3M408.8 499.7V502.8M427.6 497.2V500.3M446.4 495.5V498.5M465.3 494.8V497.7M484.1 495.6V498.4M502.9 497.9V500.6M521.8 502.4V505.1M540.6 507.9V510.6M559.4 514.9V517.6M578.2 525V527.6M597.1 538.2V540.8M615.9 553.7V556.3M634.7 572V574.5M653.6 587.5V590M672.4 596.3V598.7M691.2 595.8V598.2M710.1 588.8V591.2M728.9 583.8V586.2M747.7 585.5V587.9M766.5 590.5V592.9M785.4 601.3V603.7M804.2 610.5V612.9M823 615.1V617.5M841.9 615.8V618.2M860.7 616.3V618.7M879.5 619.6V622M898.4 623.8V626.2M917.2 625.5V627.9M936 626.3V628.7M954.8 627.8V630.2M973.7 628.3V630.7M992.5 627.3V629.7M1011.3 626.3V628.7M1030.2 627.1V629.5M1049 631.3V633.7M1067.8 633.5V637.5M1086.7 620.7V627.8M1105.5 617.2V624.5M1124.3 593.5V610.4M1143.1 607.5V635.4" stroke="#9467bd" stroke-width="1.5"/>
<path d="M88.7 547 L107.5 548 L126.3 550.8 L145.2 552.5 L164 550 L182.8 547.5 L201.6 548.8 L220.5 548 L239.3 545 L258.1 548.2 L277 546.2 L295.8 544.2 L314.6 543.8 L333.5 545 L352.3 542.5 L371.1 541.8 L389.9 540.8 L408.8 539.6 L427.6 540 L446.4 541.2 L465.3 543 L484.1 545.5 L502.9 548.8 L521.8 553.8 L540.6 560 L559.4 567 L578.2 574.5 L597.1 581.2 L615.9 591.2 L634.7 599.5 L653.6 604.2 L672.4 605.8 L691.2 603.5 L710.1 600 L728.9 598.3 L747.7 600.8 L766.5 605.8 L785.4 613.3 L804.2 619.2 L823 620 L841.9 620.5 L860.7 621.7 L879.5 624.2 L898.4 626.7 L917.2 627.5 L936 628.3 L954.8 628.3 L973.7 625.7 L992.5 621.8 L1011.3 624.8 L1030.2 630.8 L1049 654.5 L1067.8 645.8" stroke="#8c564b" stroke-width="5.2" stroke-linejoin="round" stroke-linecap="butt"/>
<path d="M78.2 545.6h21M78.2 548.4h21M97 546.6h21M97 549.4h21M115.8 549.4h21M115.8 552.1h21M134.7 551.1h21M134.7 553.9h21M153.5 548.7h21M153.5 551.4h21M172.3 546.2h21M172.3 548.8h21M191.1 547.4h21M191.1 550.1h21M210 546.7h21M210 549.3h21M228.8 543.7h21M228.8 546.3h21M247.6 547h21M247.6 549.5h21M266.5 545h21M266.5 547.5h21M285.3 543h21M285.3 545.5h21M304.1 542.5h21M304.1 545h21M323 543.8h21M323 546.2h21M341.8 541.3h21M341.8 543.7h21M360.6 540.6h21M360.6 542.9h21M379.4 539.6h21M379.4 541.9h21M398.3 538.4h21M398.3 540.8h21M417.1 538.9h21M417.1 541.2h21M435.9 540.1h21M435.9 542.4h21M454.8 541.9h21M454.8 544.1h21M473.6 544.4h21M473.6 546.6h21M492.4 547.6h21M492.4 549.9h21M511.3 552.6h21M511.3 554.9h21M530.1 558.9h21M530.1 561.1h21M548.9 565.9h21M548.9 568.1h21M567.8 573.4h21M567.8 575.6h21M586.6 580.1h21M586.6 582.4h21M605.4 590.1h21M605.4 592.4h21M624.2 598.4h21M624.2 600.6h21M643.1 603.1h21M643.1 605.4h21M661.9 604.6h21M661.9 606.9h21M680.7 602.4h21M680.7 604.6h21M699.6 598.9h21M699.6 601.1h21M718.4 597.2h21M718.4 599.4h21M737.2 599.7h21M737.2 601.9h21M756 604.7h21M756 606.9h21M774.9 612.2h21M774.9 614.4h21M793.7 618.1h21M793.7 620.3h21M812.5 618.9h21M812.5 621.1h21M831.4 619.4h21M831.4 621.6h21M850.2 620.6h21M850.2 622.8h21M869 623.1h21M869 625.3h21M887.9 625.6h21M887.9 627.8h21M906.7 626.4h21M906.7 628.6h21M925.5 627.2h21M925.5 629.4h21M944.3 627.2h21M944.3 629.4h21M963.2 624.2h21M963.2 627.2h21M982 618.8h21M982 624.9h21M1000.8 622.8h21M1000.8 626.8h21M1019.7 622.8h21M1019.7 639.3h21M1038.5 636.5h21M1038.5 675h21M1057.3 615.3h21M1057.3 684.3h21" stroke="#8c564b" stroke-width="2.5"/>
<path d="M88.7 545.6V548.4M107.5 546.6V549.4M126.3 549.4V552.1M145.2 551.1V553.9M164 548.7V551.4M182.8 546.2V548.8M201.6 547.4V550.1M220.5 546.7V549.3M239.3 543.7V546.3M258.1 547V549.5M277 545V547.5M295.8 543V545.5M314.6 542.5V545M333.5 543.8V546.2M352.3 541.3V543.7M371.1 540.6V542.9M389.9 539.6V541.9M408.8 538.4V540.8M427.6 538.9V541.2M446.4 540.1V542.4M465.3 541.9V544.1M484.1 544.4V546.6M502.9 547.6V549.9M521.8 552.6V554.9M540.6 558.9V561.1M559.4 565.9V568.1M578.2 573.4V575.6M597.1 580.1V582.4M615.9 590.1V592.4M634.7 598.4V600.6M653.6 603.1V605.4M672.4 604.6V606.9M691.2 602.4V604.6M710.1 598.9V601.1M728.9 597.2V599.4M747.7 599.7V601.9M766.5 604.7V606.9M785.4 612.2V614.4M804.2 618.1V620.3M823 618.9V621.1M841.9 619.4V621.6M860.7 620.6V622.8M879.5 623.1V625.3M898.4 625.6V627.8M917.2 626.4V628.6M936 627.2V629.4M954.8 627.2V629.4M973.7 624.2V627.2M992.5 618.8V624.9M1011.3 622.8V626.8M1030.2 622.8V639.3M1049 636.5V675M1067.8 615.3V684.3" stroke="#8c564b" stroke-width="1.5"/>
<path d="M672.4 540 L691.2 562.5 L710.1 584.2 L728.9 595.8 L747.7 604.2" stroke="#1f77b4" stroke-width="1.6" stroke-linejoin="round"/>
<path d="M691.2 557.5 L710.1 573 L728.9 580 L747.7 582.5" stroke="#ff7f0e" stroke-width="1.6" stroke-linejoin="round"/>
<path d="M804.2 604.2 L823 615.8 L841.9 622.5 L860.7 625.8 L879.5 629.2 L898.4 633" stroke="#ff7f0e" stroke-width="1.6" stroke-linejoin="round"/>
<path d="M1030.2 628.3 L1049 632.5 L1067.8 635.5 L1086.7 624.2" stroke="#9467bd" stroke-width="1.6" stroke-linejoin="round"/>
<path d="M860.7 628.3 L879.5 631 L898.4 606.7" stroke="#e377c2" stroke-width="1.6" stroke-linejoin="round"/>
<path d="M898.4 554.2V708.5" stroke="#e377c2" stroke-width="1.5"/><path d="M887.9 554.2h21" stroke="#e377c2" stroke-width="2.5"/>
</g>
<rect x="101.0" y="1.5" width="1093.2" height="677.0" fill="none" stroke="#000" stroke-width="3.3"/>
<g fill="#000" stroke="#fff" stroke-width="0.7" vector-effect="non-scaling-stroke" class="t"><text font-family="'Liberation Serif', 'DejaVu Serif', serif" font-size="53" style="font-kerning:none" transform="translate(-7.34 122.80) scale(0.9969 1.0000)">1</text>
<text font-family="'Liberation Serif', 'DejaVu Serif', serif" font-size="53" style="font-kerning:none" transform="translate(19.29 122.80) scale(0.9482 1.0000)">0</text>
<text font-family="'Liberation Serif', 'DejaVu Serif', serif" font-size="36" style="font-kerning:none" transform="translate(44.86 105.27) scale(1.3610 0.8924)" stroke="none">−</text>
<text font-family="'Liberation Serif', 'DejaVu Serif', serif" font-size="36" style="font-kerning:none" transform="translate(72.66 103.50) scale(1.1017 1.0279)">2</text>
<text font-family="'Liberation Serif', 'DejaVu Serif', serif" font-size="53" style="font-kerning:none" transform="translate(-7.34 461.30) scale(0.9969 1.0000)">1</text>
<text font-family="'Liberation Serif', 'DejaVu Serif', serif" font-size="53" style="font-kerning:none" transform="translate(19.29 461.30) scale(0.9482 1.0000)">0</text>
<text font-family="'Liberation Serif', 'DejaVu Serif', serif" font-size="36" style="font-kerning:none" transform="translate(44.86 443.77) scale(1.3610 0.8924)" stroke="none">−</text>
<text font-family="'Liberation Serif', 'DejaVu Serif', serif" font-size="36" style="font-kerning:none" transform="translate(72.56 441.64) scale(1.0692 1.0129)">3</text>
<text font-family="'Liberation Serif', 'DejaVu Serif', serif" font-size="53" style="font-kerning:none" transform="translate(670.41 728.60) scale(0.8789 1.0000)">1</text>
<text font-family="'Liberation Serif', 'DejaVu Serif', serif" font-size="53" style="font-kerning:none" transform="translate(694.42 728.60) scale(0.9304 1.0000)">0</text>
<text font-family="'Liberation Serif', 'DejaVu Serif', serif" font-size="36" style="font-kerning:none" transform="translate(719.59 710.87) scale(1.3431 0.8924)" stroke="none">−</text>
<text font-family="'Liberation Serif', 'DejaVu Serif', serif" font-size="36" style="font-kerning:none" transform="translate(747.98 709.70) scale(0.9547 1.0393)">1</text>
<text font-family="'Liberation Serif', 'DejaVu Serif', serif" font-size="53" style="font-kerning:none" transform="translate(195.41 728.60) scale(0.8789 1.0000)">1</text>
<text font-family="'Liberation Serif', 'DejaVu Serif', serif" font-size="53" style="font-kerning:none" transform="translate(219.42 728.60) scale(0.9304 1.0000)">0</text>
<text font-family="'Liberation Serif', 'DejaVu Serif', serif" font-size="36" style="font-kerning:none" transform="translate(244.59 710.87) scale(1.3431 0.8924)" stroke="none">−</text>
<text font-family="'Liberation Serif', 'DejaVu Serif', serif" font-size="36" style="font-kerning:none" transform="translate(272.36 709.70) scale(1.1017 1.0363)">2</text>
<text font-family="'Liberation Serif', 'DejaVu Serif', serif" font-size="53" style="font-kerning:none" transform="translate(1158.73 728.60) scale(0.8736 1.0000)">1</text>
<text font-family="'Liberation Serif', 'DejaVu Serif', serif" font-size="53" style="font-kerning:none" transform="translate(1182.58 728.60) scale(0.9527 1.0000)">0</text>
<text font-family="'Liberation Serif', 'DejaVu Serif', serif" font-size="36" style="font-kerning:none" transform="translate(1207.27 710.23) scale(0.9700 1.0456)">0</text>
<text font-family="'Liberation Serif', 'DejaVu Serif', serif" font-size="62" style="font-kerning:none" transform="translate(353.28 794.25) scale(0.9612 1.0000)">Minimum</text>
<text font-family="'Liberation Serif', 'DejaVu Serif', serif" font-size="62" style="font-kerning:none" transform="translate(610.24 794.25) scale(0.9984 1.0000)">gap</text>
<text font-family="'Liberation Serif', 'DejaVu Serif', serif" font-size="62" style="font-kerning:none" transform="translate(723.03 795.61) scale(0.6801 1.0904)" stroke="none">|</text>
<text font-family="'Liberation Serif', 'DejaVu Serif', serif" font-style="italic" font-size="62" style="font-kerning:none" transform="translate(737.10 793.23) scale(1.1262 0.9677)">ϕ</text>
<text font-family="'Liberation Serif', 'DejaVu Serif', serif" font-size="41" style="font-kerning:none" transform="translate(772.44 803.10) scale(0.9380 0.9976)">0</text>
<text font-family="'Liberation Serif', 'DejaVu Serif', serif" font-size="62" style="font-kerning:none" transform="translate(807.62 790.80) scale(1.2894 0.5829)" stroke="none">−</text>
<text font-family="'Liberation Serif', 'DejaVu Serif', serif" font-style="italic" font-size="62" style="font-kerning:none" transform="translate(870.10 793.23) scale(1.1228 0.9677)">ϕ</text>
<text font-family="'Liberation Serif', 'DejaVu Serif', serif" font-style="italic" font-size="41" style="font-kerning:none" transform="translate(910.65 802.91) scale(1.1980 0.9951)">j</text>
<text font-family="'Liberation Serif', 'DejaVu Serif', serif" font-size="62" style="font-kerning:none" transform="translate(929.53 795.61) scale(0.6801 1.0904)" stroke="none">|</text>
<text font-family="'Liberation Serif', 'DejaVu Serif', serif" font-size="64" style="font-kerning:none" transform="translate(45.50 358.32) rotate(-90) scale(0.9885 1)">Error</text>
<text font-family="'Liberation Serif', 'DejaVu Serif', serif" font-style="italic" font-size="57" style="font-kerning:none" transform="translate(45.50 206.70) rotate(-90) scale(0.8831 1)">ϵ</text></g>
<g>
<rect x="814.6" y="7" width="373.4" height="469.6" rx="6.5" fill="#fff" fill-opacity="0.8" stroke="#ccc" stroke-opacity="0.8" stroke-width="1.9"/>
<g class="t" stroke="#fff" stroke-width="0.7"><path d="M829.4 43.5H925.2" stroke="#1f77b4" stroke-width="6.7"/>
<text font-family="'Liberation Serif', 'DejaVu Serif', serif" font-style="italic" font-size="46" style="font-kerning:none" transform="translate(959.96 52.40) scale(1.0648 1.0000)">N</text>
<text font-family="'Liberation Serif', 'DejaVu Serif', serif" font-size="31.5" style="font-kerning:none" transform="translate(991.90 58.30) scale(0.9713 1.0000)">eig</text>
<text font-family="'Liberation Serif', 'DejaVu Serif', serif" font-size="40" style="font-kerning:none" transform="translate(1041.91 53.20) scale(1.4989 0.8700)" stroke="none">=</text>
<text font-family="'Liberation Serif', 'DejaVu Serif', serif" font-size="44.5" style="font-kerning:none" transform="translate(1087.68 52.40) scale(1.0314 1.0000)">2</text>
<path d="M829.4 108.8H925.2" stroke="#ff7f0e" stroke-width="6.7"/>
<text font-family="'Liberation Serif', 'DejaVu Serif', serif" font-style="italic" font-size="46" style="font-kerning:none" transform="translate(959.96 117.68) scale(1.0648 1.0000)">N</text>
<text font-family="'Liberation Serif', 'DejaVu Serif', serif" font-size="31.5" style="font-kerning:none" transform="translate(991.90 123.58) scale(0.9713 1.0000)">eig</text>
<text font-family="'Liberation Serif', 'DejaVu Serif', serif" font-size="40" style="font-kerning:none" transform="translate(1041.91 118.48) scale(1.4989 0.8700)" stroke="none">=</text>
<text font-family="'Liberation Serif', 'DejaVu Serif', serif" font-size="44.5" style="font-kerning:none" transform="translate(1087.29 117.68) scale(1.0097 1.0000)">5</text>
<path d="M829.4 174.1H925.2" stroke="#2ca02c" stroke-width="6.7"/>
<text font-family="'Liberation Serif', 'DejaVu Serif', serif" font-style="italic" font-size="46" style="font-kerning:none" transform="translate(959.96 182.96) scale(1.0648 1.0000)">N</text>
<text font-family="'Liberation Serif', 'DejaVu Serif', serif" font-size="31.5" style="font-kerning:none" transform="translate(991.90 188.86) scale(0.9713 1.0000)">eig</text>
<text font-family="'Liberation Serif', 'DejaVu Serif', serif" font-size="40" style="font-kerning:none" transform="translate(1041.91 183.76) scale(1.4989 0.8700)" stroke="none">=</text>
<text font-family="'Liberation Serif', 'DejaVu Serif', serif" font-size="44.5" style="font-kerning:none" transform="translate(1088.18 182.96) scale(0.9256 1.0000)">10</text>
<path d="M829.4 239.4H925.2" stroke="#d62728" stroke-width="6.7"/>
<text font-family="'Liberation Serif', 'DejaVu Serif', serif" font-style="italic" font-size="46" style="font-kerning:none" transform="translate(959.96 248.24) scale(1.0648 1.0000)">N</text>
<text font-family="'Liberation Serif', 'DejaVu Serif', serif" font-size="31.5" style="font-kerning:none" transform="translate(991.90 254.14) scale(0.9713 1.0000)">eig</text>
<text font-family="'Liberation Serif', 'DejaVu Serif', serif" font-size="40" style="font-kerning:none" transform="translate(1041.91 249.04) scale(1.4989 0.8700)" stroke="none">=</text>
<text font-family="'Liberation Serif', 'DejaVu Serif', serif" font-size="44.5" style="font-kerning:none" transform="translate(1087.88 248.24) scale(0.9327 1.0000)">20</text>
<path d="M829.4 304.7H925.2" stroke="#9467bd" stroke-width="6.7"/>
<text font-family="'Liberation Serif', 'DejaVu Serif', serif" font-style="italic" font-size="46" style="font-kerning:none" transform="translate(959.96 313.52) scale(1.0648 1.0000)">N</text>
<text font-family="'Liberation Serif', 'DejaVu Serif', serif" font-size="31.5" style="font-kerning:none" transform="translate(991.90 319.42) scale(0.9713 1.0000)">eig</text>
<text font-family="'Liberation Serif', 'DejaVu Serif', serif" font-size="40" style="font-kerning:none" transform="translate(1041.91 314.32) scale(1.4989 0.8700)" stroke="none">=</text>
<text font-family="'Liberation Serif', 'DejaVu Serif', serif" font-size="44.5" style="font-kerning:none" transform="translate(1087.46 313.52) scale(0.9423 1.0000)">50</text>
<path d="M829.4 369.9H925.2" stroke="#8c564b" stroke-width="6.7"/>
<text font-family="'Liberation Serif', 'DejaVu Serif', serif" font-style="italic" font-size="46" style="font-kerning:none" transform="translate(959.96 378.80) scale(1.0648 1.0000)">N</text>
<text font-family="'Liberation Serif', 'DejaVu Serif', serif" font-size="31.5" style="font-kerning:none" transform="translate(991.90 384.70) scale(0.9713 1.0000)">eig</text>
<text font-family="'Liberation Serif', 'DejaVu Serif', serif" font-size="40" style="font-kerning:none" transform="translate(1041.91 379.60) scale(1.4989 0.8700)" stroke="none">=</text>
<text font-family="'Liberation Serif', 'DejaVu Serif', serif" font-size="44.5" style="font-kerning:none" transform="translate(1088.19 378.80) scale(0.9224 1.0000)">100</text>
<path d="M829.4 435.2H925.2" stroke="#e377c2" stroke-width="6.7"/>
<text font-family="'Liberation Serif', 'DejaVu Serif', serif" font-style="italic" font-size="46" style="font-kerning:none" transform="translate(959.96 444.08) scale(1.0648 1.0000)">N</text>
<text font-family="'Liberation Serif', 'DejaVu Serif', serif" font-size="31.5" style="font-kerning:none" transform="translate(991.90 449.98) scale(0.9713 1.0000)">eig</text>
<text font-family="'Liberation Serif', 'DejaVu Serif', serif" font-size="40" style="font-kerning:none" transform="translate(1041.91 444.88) scale(1.4989 0.8700)" stroke="none">=</text>
<text font-family="'Liberation Serif', 'DejaVu Serif', serif" font-size="44.5" style="font-kerning:none" transform="translate(1088.20 444.08) scale(0.9209 1.0000)">1000</text></g>
</g>
</svg>
</body></html>
